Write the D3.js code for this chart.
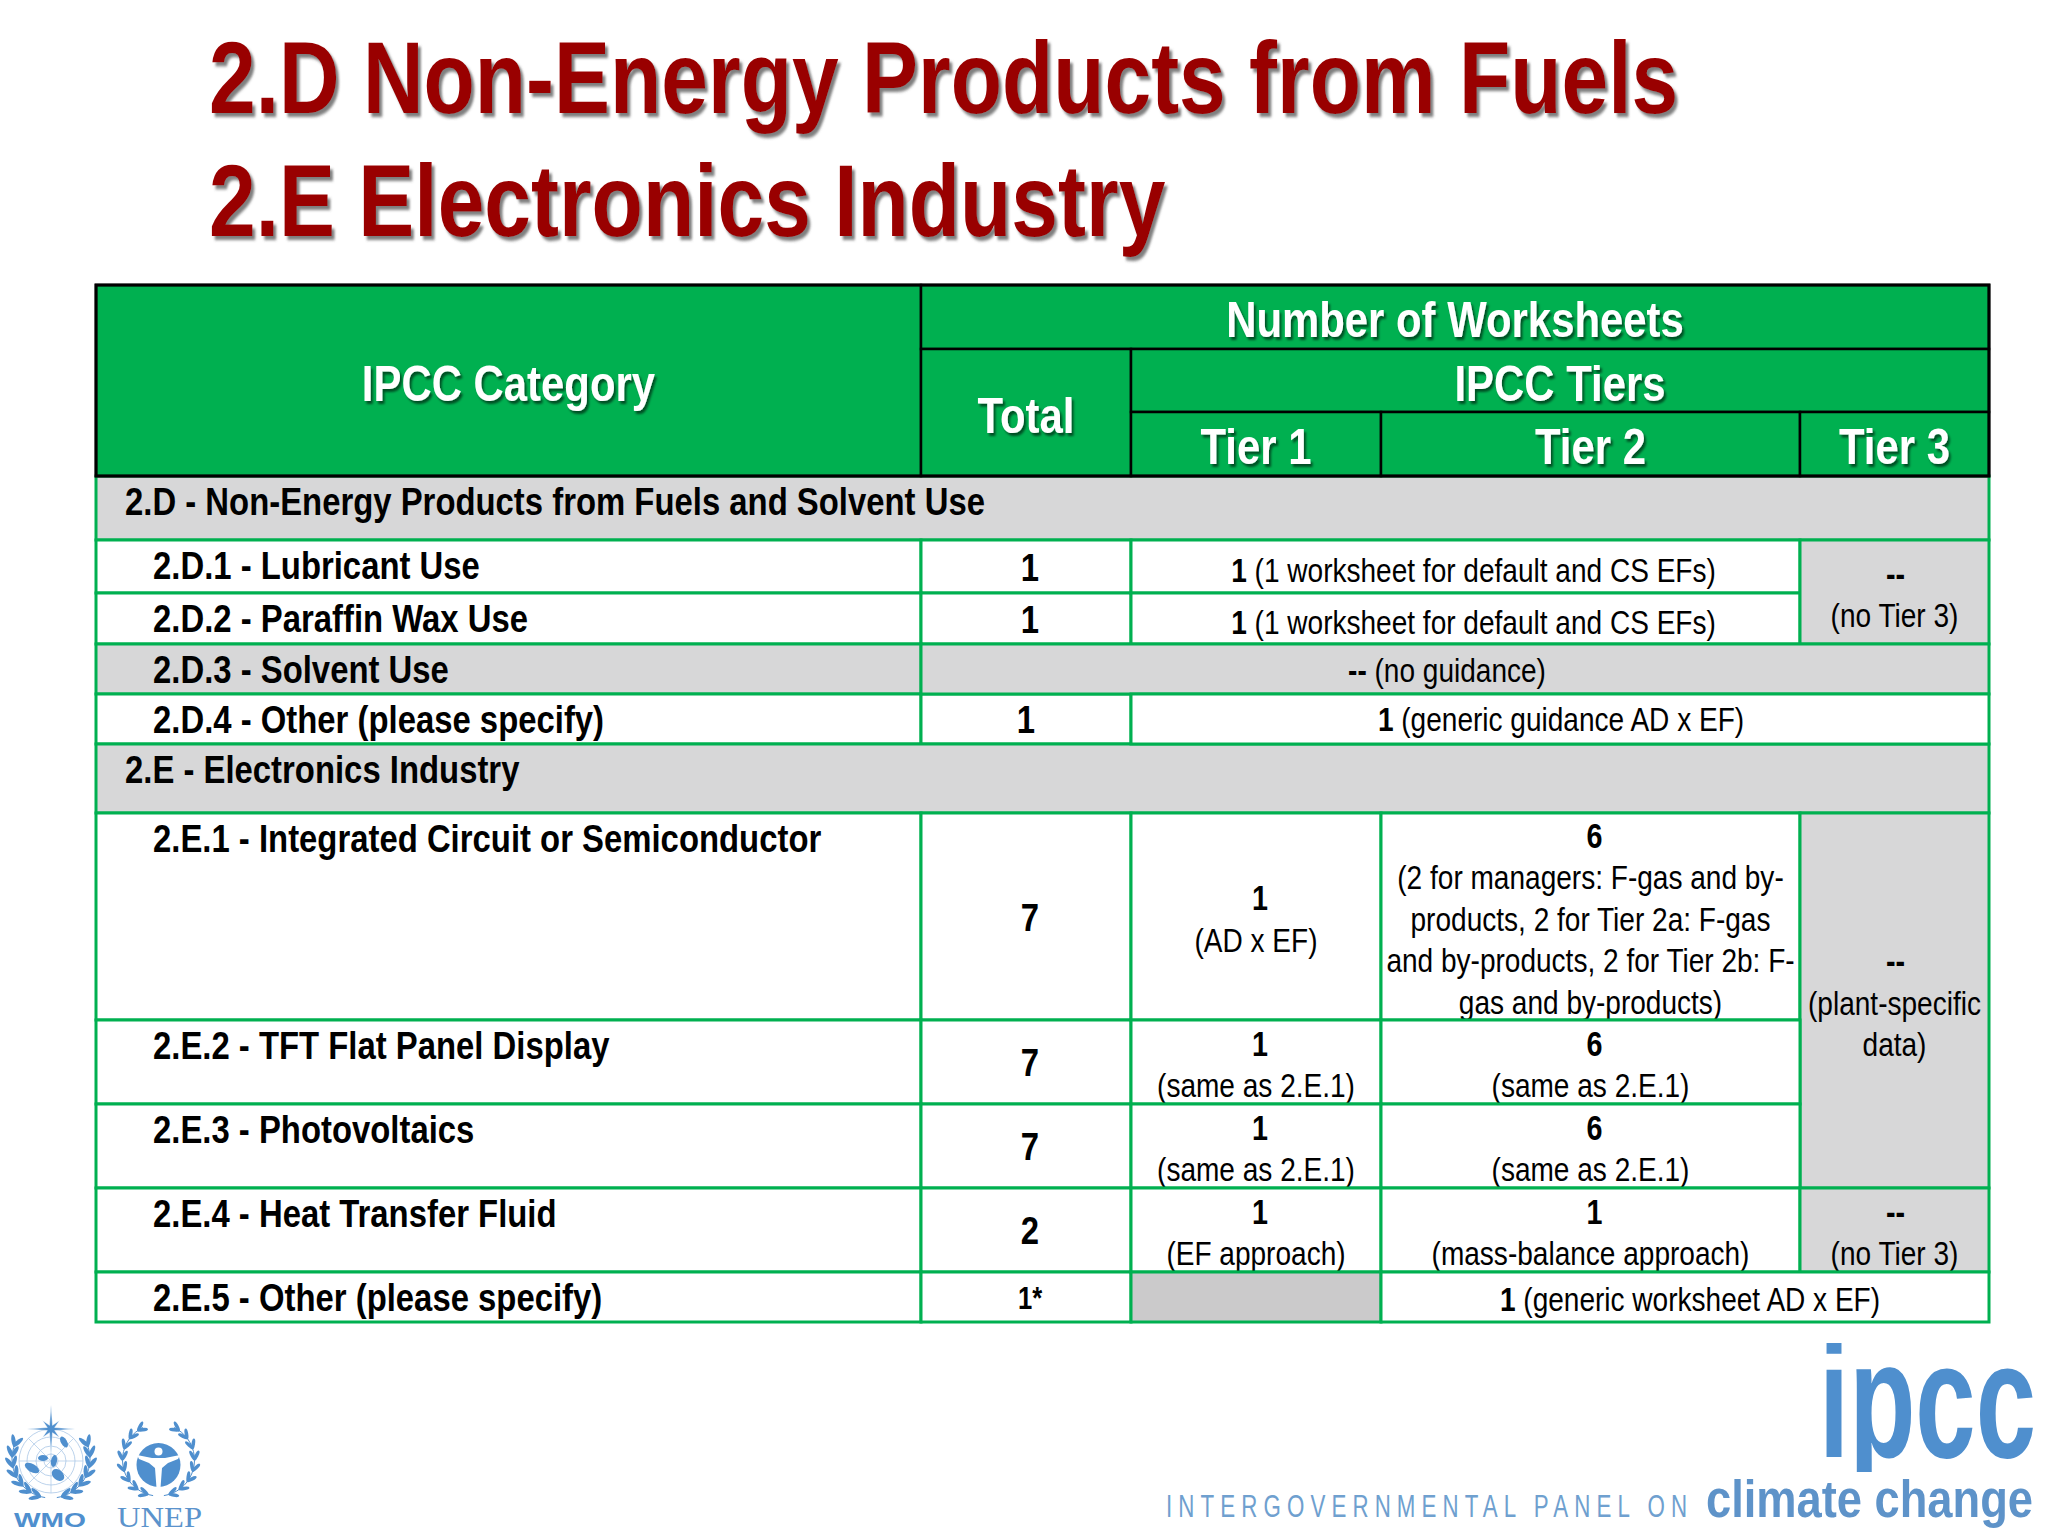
<!DOCTYPE html>
<html><head><meta charset="utf-8">
<script src="https://cdn.jsdelivr.net/npm/d3@7"></script>
<style>html,body{margin:0;padding:0;background:#fff}svg{display:block}</style>
</head><body><svg id="c" width="2048" height="1536"></svg>
<script>
// ---------- content ----------
const titleLines = ["2.D Non-Energy Products from Fuels", "2.E Electronics Industry"];
const rowIds = ["2.D","2.D.1","2.D.2","2.D.3","2.D.4","2.E","2.E.1","2.E.2","2.E.3","2.E.4","2.E.5"];
const rowLabels = ["2.D - Non-Energy Products from Fuels and Solvent Use","2.D.1 - Lubricant Use","2.D.2 - Paraffin Wax Use","2.D.3 - Solvent Use","2.D.4 - Other (please specify)","2.E - Electronics Industry","2.E.1 - Integrated Circuit or Semiconductor","2.E.2 - TFT Flat Panel Display","2.E.3 - Photovoltaics","2.E.4 - Heat Transfer Fluid","2.E.5 - Other (please specify)"];
const totals = [null,"1","1",null,"1",null,"7","7","7","2","1*"];
const shadedRows = ["2.D","2.D.3","2.E"];
const sectionRows = ["2.D","2.E"];
const headerCells = [
  ["h1","h3","category","total","IPCC Category"],
  ["h1","h1","total","end","Number of Worksheets"],
  ["h2","h3","total","tier1","Total"],
  ["h2","h2","tier1","end","IPCC Tiers"],
  ["h3","h3","tier1","tier2","Tier 1"],
  ["h3","h3","tier2","tier3","Tier 2"],
  ["h3","h3","tier3","end","Tier 3"]
];
// row from, row to, column from, column to, count, note lines, inline?, shade
const tierCells = [
  ["2.D.1","2.D.1","tier1","tier3","1",["(1 worksheet for default and CS EFs)"],true,null],
  ["2.D.2","2.D.2","tier1","tier3","1",["(1 worksheet for default and CS EFs)"],true,null],
  ["2.D.1","2.D.2","tier3","end","--",["(no Tier 3)"],false,"grey"],
  ["2.D.3","2.D.3","total","end","--",["(no guidance)"],true,"grey"],
  ["2.D.4","2.D.4","tier1","end","1",["(generic guidance AD x EF)"],true,null],
  ["2.E.1","2.E.1","tier1","tier2","1",["(AD x EF)"],false,null],
  ["2.E.1","2.E.1","tier2","tier3","6",["(2 for managers: F-gas and by-","products, 2 for Tier 2a: F-gas","and by-products, 2 for Tier 2b: F-","gas and by-products)"],false,null],
  ["2.E.1","2.E.3","tier3","end","--",["(plant-specific","data)"],false,"grey"],
  ["2.E.2","2.E.2","tier1","tier2","1",["(same as 2.E.1)"],false,null],
  ["2.E.2","2.E.2","tier2","tier3","6",["(same as 2.E.1)"],false,null],
  ["2.E.3","2.E.3","tier1","tier2","1",["(same as 2.E.1)"],false,null],
  ["2.E.3","2.E.3","tier2","tier3","6",["(same as 2.E.1)"],false,null],
  ["2.E.4","2.E.4","tier1","tier2","1",["(EF approach)"],false,null],
  ["2.E.4","2.E.4","tier2","tier3","1",["(mass-balance approach)"],false,null],
  ["2.E.4","2.E.4","tier3","end","--",["(no Tier 3)"],false,"grey"],
  ["2.E.5","2.E.5","tier1","tier2",null,[],false,"dark"],
  ["2.E.5","2.E.5","tier2","end","1",["(generic worksheet AD x EF)"],true,null]
];

// ---------- layout scales ----------
const colKeys = ["category","total","tier1","tier2","tier3","end"];
const colX = d3.scaleOrdinal(colKeys,[96,921,1131,1381,1800,1989]);
const headKeys = ["h1","h2","h3","body"];
const headY = d3.scaleOrdinal(headKeys,[285,349,412,476]);
const rowY = d3.scaleOrdinal([...rowIds,"end"],[476,540,593,644,694,744,813,1020,1104,1188,1272,1322]);
const nextRow = id => { const a=[...rowIds,"end"]; return a[a.indexOf(id)+1]; };
const nextHead = id => headKeys[headKeys.indexOf(id)+1];
const inlineNudge = d3.scaleOrdinal(["2.D.1","2.D.2","2.D.3","2.D.4","2.E.5"],[8,8,-8,1,5]);
const inlineDrop = d3.scaleOrdinal(["2.D.1","2.D.2","2.D.3","2.D.4","2.E.5"],[15.5,15.5,13,11.5,14]);
const totalNudge = d3.scaleOrdinal(["2.D.4"],[0]).unknown(4);

const GREEN="#00B050", GREY="#D7D7D8", DARK="#CBCACB", RED="#990000", BLUE="#4F8FCE";
const styles = {
  title:{size:102,weight:700,k:0.823,fill:RED,filter:"url(#sTitle)"},
  head:{size:50,weight:700,k:0.838,fill:"#fff",filter:"url(#sHead)"},
  row:{size:38,weight:700,k:0.865,fill:"#000"},
  total:{size:38,weight:700,k:0.865,fill:"#000"},
  totalSmall:{size:32,weight:700,k:0.8,fill:"#000"},
  cell:{size:33,weight:400,k:0.85,fill:"#000"},
  count:{size:35,weight:700,k:0.82,fill:"#000"},
};
const svg = d3.select("#c");
const defs = svg.append("defs");
const shadow=(id,dx,dy,sd,c,o)=>defs.append("filter").attr("id",id).attr("x","-5%").attr("y","-20%").attr("width","110%").attr("height","150%")
  .append("feDropShadow").attr("dx",dx).attr("dy",dy).attr("stdDeviation",sd).attr("flood-color",c).attr("flood-opacity",o);
shadow("sTitle",3.5,4,1.6,"#555",0.75);
shadow("sHead",2.5,3,1.2,"#000",0.55);
defs.append("clipPath").attr("id","ipccClip").append("rect").attr("x",1800).attr("y",1343).attr("width",248).attr("height",129);

function label(parent,x,y,str,style,anchor){
  const s=styles[style];
  return parent.append("text").attr("transform",`translate(${x},${y}) scale(${s.k},1)`)
    .attr("text-anchor",anchor||"middle").attr("font-family","'Liberation Sans',Arial,sans-serif")
    .attr("font-size",s.size).attr("font-weight",s.weight).attr("fill",s.fill)
    .attr("filter",s.filter||null).text(str);
}

// ---------- title ----------
const titleG=svg.append("g");
titleLines.forEach((t,i)=>label(titleG,209,[113,236][i],t,"title","start"));

// ---------- body ----------
const body=svg.append("g");
rowIds.forEach((id,i)=>{
  const y0=rowY(id), y1=rowY(nextRow(id)), sec=sectionRows.includes(id);
  const x1=sec?colX("end"):colX("total");
  body.append("rect").attr("x",colX("category")).attr("y",y0).attr("width",x1-colX("category")).attr("height",y1-y0)
    .attr("fill",shadedRows.includes(id)?GREY:"#fff").attr("stroke",GREEN).attr("stroke-width",3);
  label(body,sec?125:153,y0+39,rowLabels[i],"row","start");
  if(!sec && totals[i]===null) return;
  if(!sec){
    body.append("rect").attr("x",colX("total")).attr("y",y0).attr("width",colX("tier1")-colX("total")).attr("height",y1-y0)
      .attr("fill","#fff").attr("stroke",GREEN).attr("stroke-width",3);
    const starred=totals[i].includes("*");
    label(body,(colX("total")+colX("tier1"))/2+totalNudge(id),(y0+y1)/2+(starred?12:14),totals[i],starred?"totalSmall":"total");
  }
});
const LH=41.5;
tierCells.forEach(([r0,r1,c0,c1,count,notes,inline,shade])=>{
  const x0=colX(c0),x1=colX(c1),y0=rowY(r0),y1=rowY(nextRow(r1));
  body.append("rect").attr("x",x0).attr("y",y0).attr("width",x1-x0).attr("height",y1-y0)
    .attr("fill",shade==="grey"?GREY:shade==="dark"?DARK:"#fff").attr("stroke",GREEN).attr("stroke-width",3);
  if(count===null) return;
  const cx=(x0+x1)/2, cy=(y0+y1)/2;
  if(inline){
    const t=label(body,cx+inlineNudge(r0),cy+inlineDrop(r0),"", "cell");
    t.append("tspan").attr("font-weight",700).text(count+" ");
    t.append("tspan").text(notes[0]);
  } else {
    const n=notes.length+1, first=cy-n*LH/2+35;
    label(body,cx+(c0==="tier3"?1:4),first,count,"count");
    notes.forEach((l,j)=>label(body,cx,first+(j+1)*LH,l,"cell"));
  }
});

// ---------- header ----------
const head=svg.append("g");
headerCells.forEach(([r0,r1,c0,c1,t])=>{
  const x0=colX(c0),x1=colX(c1),y0=headY(r0),y1=headY(nextHead(r1));
  head.append("rect").attr("x",x0).attr("y",y0).attr("width",x1-x0).attr("height",y1-y0)
    .attr("fill",GREEN).attr("stroke","#000").attr("stroke-width",2.5);
});
head.append("rect").attr("x",colX("category")).attr("y",headY("h1")).attr("width",colX("end")-colX("category")).attr("height",headY("body")-headY("h1"))
  .attr("fill","none").attr("stroke","#000").attr("stroke-width",3);
headerCells.forEach(([r0,r1,c0,c1,t])=>{
  label(head,(colX(c0)+colX(c1))/2,(headY(r0)+headY(nextHead(r1)))/2+20,t,"head");
});

// ---------- logos ----------
const logo=svg.append("g").attr("fill",BLUE);
function laurel(cx,cy,r,aMin,aMax,n,len,wid){
  [-1,1].forEach(side=>{
    logo.append("path").attr("fill","none").attr("stroke",BLUE).attr("stroke-width",1)
      .attr("d",d3.line()(d3.range(21).map(i=>{const a=aMin+(aMax-aMin)*i/20;return [cx+side*r*Math.sin(a),cy+r*Math.cos(a)];})));
    d3.range(n).forEach(i=>{
      const a=aMin+(aMax-aMin)*(i+0.5)/n;
      const px=cx+side*r*Math.sin(a), py=cy+r*Math.cos(a);
      const th=side*(90-a*180/Math.PI);
      [-1,1].forEach(o=>{
        const rot=th+o*side*28;
        const rad=rot*Math.PI/180;
        logo.append("ellipse").attr("rx",wid).attr("ry",len)
          .attr("transform",`translate(${px+len*0.8*Math.sin(rad)},${py-len*0.8*Math.cos(rad)}) rotate(${rot})`);
      });
    });
  });
}
// WMO emblem
laurel(51,1459,39,0.15,2.05,7,6.5,2.1);
const wmo=logo.append("g");
[32,24,15,7].forEach(r=>wmo.append("circle").attr("cx",51).attr("cy",1461).attr("r",r).attr("fill","#fff").attr("fill-opacity",r===32?1:0).attr("stroke","#a9c7e6").attr("stroke-width",0.8));
d3.range(4).forEach(i=>wmo.append("line").attr("x1",51+32*Math.cos(i*Math.PI/4)).attr("y1",1461+32*Math.sin(i*Math.PI/4)).attr("x2",51-32*Math.cos(i*Math.PI/4)).attr("y2",1461-32*Math.sin(i*Math.PI/4)).attr("stroke","#a9c7e6").attr("stroke-width",0.7));
[[32,1468,8,4,30],[43,1458,5,3,0],[58,1475,7,5,40],[54,1461,3,6,10],[64,1442,3,6,-30]].forEach(([x,y,a,b,r])=>wmo.append("ellipse").attr("rx",a).attr("ry",b).attr("transform",`translate(${x},${y}) rotate(${r})`));
const star=d3.range(16).map(i=>{const R=i%4===0?24:(i%2===0?12:4);const a=i*Math.PI/8;return [51+R*Math.sin(a),1429-R*Math.cos(a)];});
wmo.append("polygon").attr("points",star.join(" ")).attr("stroke","#fff").attr("stroke-width",0.5);
logo.append("text").attr("x",50).attr("y",1527).attr("text-anchor","middle").attr("font-family","'Liberation Sans'").attr("font-weight",700).attr("font-size",21).attr("textLength",72).attr("lengthAdjust","spacingAndGlyphs").text("WMO");
// UNEP emblem
laurel(158.5,1460,36,0.15,2.7,8,5.5,1.8);
logo.append("circle").attr("cx",158.5).attr("cy",1465).attr("r",22);
const fig=logo.append("g").attr("fill","#fff");
fig.append("circle").attr("cx",158.5).attr("cy",1451.5).attr("r",4);
fig.append("path").attr("d",d3.line().curve(d3.curveLinearClosed)([[137,1455],[152,1458],[165,1458],[180,1455],[178,1459],[168,1463],[162,1468],[160.5,1488],[156.5,1488],[155,1468],[149,1463],[139,1459]]));
logo.append("text").attr("x",159.5).attr("y",1527).attr("text-anchor","middle").attr("font-family","'Liberation Serif'").attr("font-size",29).attr("textLength",85).attr("lengthAdjust","spacingAndGlyphs").attr("fill","#5b93cc").text("UNEP");
// IPCC wordmark
const mark=svg.append("g");
mark.append("g").attr("clip-path","url(#ipccClip)").append("text").attr("x",1819).attr("y",1457)
  .attr("font-family","'Liberation Sans'").attr("font-weight",700).attr("font-size",166)
  .attr("textLength",217).attr("lengthAdjust","spacingAndGlyphs").attr("fill",BLUE).text("ipcc");
mark.append("text").attr("x",1706).attr("y",1517).attr("font-family","'Liberation Sans'").attr("font-weight",700).attr("font-size",51)
  .attr("textLength",327).attr("lengthAdjust","spacingAndGlyphs").attr("fill","#5e93c9").text("climate change");
mark.append("text").attr("transform","translate(1166,1517) scale(0.72,1)").attr("font-family","'Liberation Sans'").attr("font-size",31)
  .attr("textLength",521/0.72).attr("lengthAdjust","spacing").attr("fill","#6fa0cf").text("INTERGOVERNMENTAL PANEL ON");
</script></body></html>
